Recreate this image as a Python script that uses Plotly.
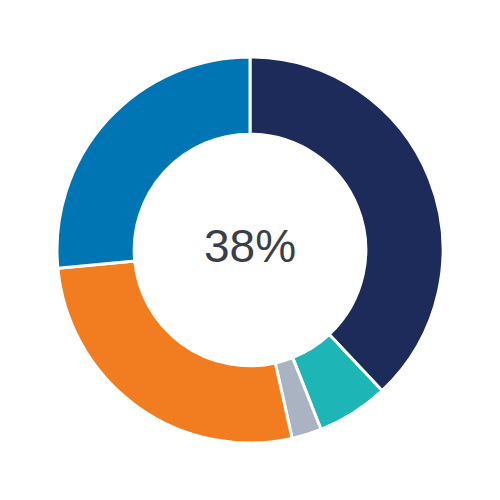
import plotly.graph_objects as go

labels = ["A", "B", "C", "D", "E"]
values = [38, 6, 2.5, 27, 26.5]
colors = ["#1c2b5a", "#1db5b5", "#aab3c2", "#f27d21", "#0075b4"]
center_text = "38%"

fig = go.Figure(
    go.Pie(
        labels=labels,
        values=values,
        hole=0.6,
        sort=False,
        direction="clockwise",
        rotation=0,
        marker={"colors": colors, "line": {"color": "white", "width": 3}},
        textinfo="none",
        hoverinfo="label+percent",
        domain={"x": [0.098, 0.870], "y": [0.13, 0.902]},
    )
)
fig.update_layout(
    width=500,
    height=500,
    margin={"l": 0, "r": 0, "t": 0, "b": 0},
    showlegend=False,
    paper_bgcolor="white",
    annotations=[
        {
            "text": center_text,
            "x": 0.484,
            "y": 0.524,
            "xref": "paper",
            "yref": "paper",
            "showarrow": False,
            "font": {"size": 46, "color": "#3a3f47", "family": "Liberation Sans, Arial"},
        }
    ],
)
fig.write_html("out.html")
